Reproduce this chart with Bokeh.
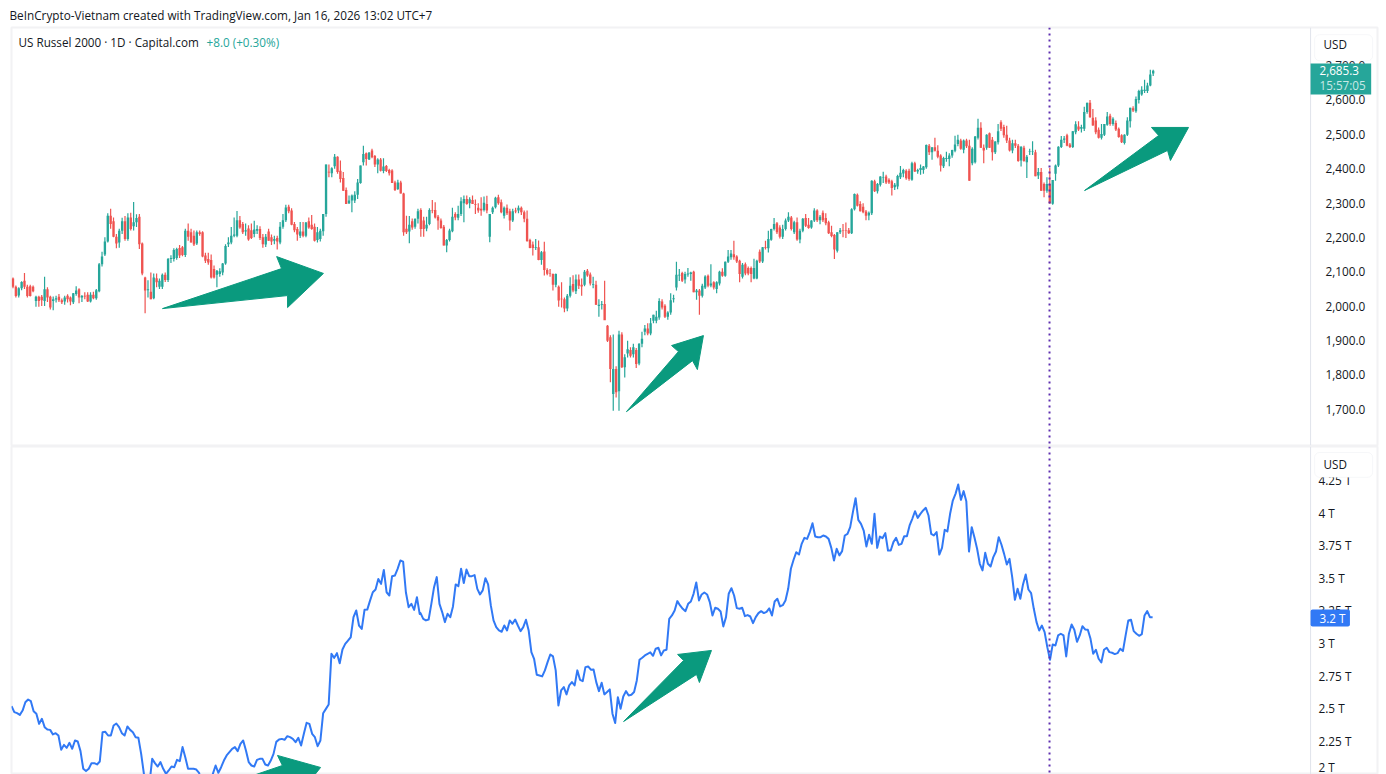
from bokeh.plotting import figure
from bokeh.layouts import column
from bokeh.models import Range1d, Span, BoxAnnotation, Label, FixedTicker, NumeralTickFormatter
from bokeh.embed import file_html
from bokeh.resources import INLINE
import numpy as np

opens_a = [2080,2056,2031,2052,2074,2056,2058,2056,2015,2027,
2027,2015,2049,2027,2015,2019,2027,2017,2013,2030,
2025,2011,2035,2049,2025,2030,2033,2013,2033,2023,
2043,2122,2150,2188,2263,2247,2202,2185,2219,2247,
2195,2258,2232,2244,2260,2182,2083,2046,2042,2023,
2081,2056,2056,2091,2076,2137,2137,2140,2169,2171,
2149,2219,2215,2205,2182,2215,2215,2147,2137,2134,
2108,2091,2093,2098,2124,2180,2185,2205,2205,2250,
2239,2217,2226,2221,2210,2219,2224,2200,2179,2217,
2200,2190,2198,2185,2231,2250,2289,2278,2239,2224,
2205,2217,2205,2247,2237,2231,2192,2195,2218,2268]
highs_a = [2083,2060,2055,2072,2096,2062,2062,2060,2030,2030,
2032,2085,2055,2030,2028,2030,2035,2022,2030,2034,
2028,2038,2058,2052,2032,2040,2040,2040,2042,2050,
2125,2158,2200,2270,2283,2258,2210,2225,2257,2262,
2270,2272,2303,2267,2268,2185,2085,2075,2098,2095,
2095,2080,2095,2098,2140,2148,2168,2170,2178,2175,
2225,2240,2225,2220,2220,2220,2218,2155,2155,2150,
2118,2105,2110,2125,2180,2200,2230,2258,2277,2262,
2245,2240,2235,2240,2248,2235,2232,2210,2210,2225,
2208,2205,2205,2245,2268,2295,2295,2285,2245,2230,
2245,2245,2245,2258,2265,2240,2230,2225,2268,2412]
lows_a = [2052,2025,2025,2046,2050,2025,2028,2040,1998,1998,
2000,2000,2012,1990,1988,2010,2012,2006,2004,2010,
2002,2006,2030,2008,2012,2020,2012,2010,2020,2018,
2040,2115,2146,2185,2225,2200,2168,2170,2210,2190,
2190,2220,2220,2230,2166,2090,1979,2025,2020,2020,
2055,2050,2050,2070,2070,2125,2130,2135,2140,2145,
2143,2190,2185,2175,2178,2205,2142,2125,2120,2080,
2080,2055,2085,2090,2120,2172,2180,2200,2200,2225,
2210,2205,2190,2195,2200,2210,2192,2170,2172,2190,
2178,2180,2165,2180,2225,2245,2270,2235,2215,2190,
2198,2200,2200,2225,2222,2188,2185,2188,2205,2260]
closes_a = [2056,2029,2052,2070,2056,2029,2029,2043,2027,2015,
2017,2049,2025,1996,2020,2023,2017,2011,2025,2020,
2013,2037,2045,2025,2029,2028,2013,2033,2023,2046,
2122,2144,2188,2263,2239,2202,2182,2219,2247,2195,
2258,2224,2244,2256,2180,2095,2045,2049,2020,2083,
2069,2074,2091,2076,2137,2140,2163,2166,2147,2149,
2219,2202,2185,2179,2215,2210,2144,2132,2127,2083,
2083,2103,2101,2124,2175,2185,2205,2208,2250,2229,
2215,2221,2194,2198,2223,2224,2198,2180,2202,2190,
2188,2195,2188,2231,2250,2287,2276,2237,2221,2208,
2217,2205,2243,2229,2224,2190,2215,2219,2268,2412]

opens_b = [2391,2387,2407,2435,2394,2373,2338,2299,2307,2307,
2324,2358,2419,2445,2427,2453,2437,2412,2427,2393,
2408,2396,2395,2360,2341,2360,2328,2225,2217,2247,
2231,2254,2280,2249,2226,2239,2280,2280,2260,2249,
2231,2176,2192,2218,2268,2257,2268,2299,2312,2299,
2309,2297,2286,2283,2280,2297,2202,2273,2288,2317,
2302,2263,2286,2276,2249,2278,2278,2286,2273,2254,
2192,2179,2169,2171,2134,2159,2105,2095,2093,2062,
2056,2021,2020,1993,2030,2064,2043,2077,2062,2062,
2103,2092,2062,2062,2000,2004,2006,1943,1909,1744,
1817,1752,1917,1822,1862,1872,1860,1872,1833]
highs_b = [2412,2404,2443,2436,2424,2390,2345,2322,2325,2334,
2370,2409,2467,2447,2448,2458,2440,2430,2431,2430,
2411,2400,2398,2365,2368,2365,2330,2263,2262,2255,
2255,2283,2285,2260,2260,2285,2309,2302,2265,2255,
2236,2195,2225,2286,2273,2292,2317,2322,2322,2317,
2322,2310,2299,2317,2319,2321,2265,2290,2318,2324,
2310,2290,2296,2283,2283,2286,2293,2290,2278,2278,
2196,2188,2195,2191,2160,2187,2110,2108,2095,2095,
2060,2069,2025,2035,2084,2090,2092,2092,2080,2105,
2108,2098,2085,2074,2020,2015,2074,1945,1915,1917,
1825,1928,1924,1860,1899,1880,1890,1878,1892]
lows_b = [2375,2375,2400,2385,2360,2335,2297,2297,2273,2300,
2312,2356,2409,2409,2425,2430,2405,2387,2392,2387,
2390,2380,2385,2335,2338,2328,2205,2210,2183,2222,
2225,2240,2202,2202,2218,2235,2270,2255,2222,2225,
2176,2157,2188,2215,2250,2250,2262,2244,2295,2285,
2297,2268,2272,2263,2275,2270,2186,2268,2284,2295,
2270,2255,2265,2220,2245,2270,2270,2265,2244,2188,
2168,2147,2163,2133,2120,2089,2090,2085,2045,2055,
1998,1996,1982,1985,2025,2040,2035,2050,2030,2058,
2085,2060,2052,2003,1969,1990,1960,1895,1778,1695,
1734,1695,1820,1792,1850,1850,1850,1820,1828]
closes_b = [2389,2401,2435,2390,2370,2336,2297,2307,2322,2324,
2360,2409,2443,2428,2447,2433,2412,2427,2394,2406,
2393,2387,2358,2338,2360,2328,2215,2215,2237,2229,
2254,2276,2224,2224,2237,2280,2278,2258,2249,2227,
2176,2192,2220,2260,2258,2268,2305,2312,2297,2311,
2297,2295,2278,2278,2301,2278,2268,2286,2315,2299,
2273,2286,2270,2249,2276,2275,2286,2273,2254,2189,
2169,2169,2171,2134,2157,2105,2094,2093,2062,2093,
2016,2020,1993,2030,2059,2045,2077,2059,2057,2100,
2089,2066,2064,2004,2004,2006,1959,1899,1817,1817,
1749,1917,1822,1851,1874,1855,1880,1831,1890]

opens_c = [1890,1925,1935,1920,1957,1957,1967,2013,
2001,1969,1981,2020,2054,2089,2096,2077,2092,2093,2100,
2040,2045,2030,2054,2088,2060,2069,2050,2066,2100,
2088,2129,2142,2151,2144,2132,2085,2122,2111,2111,
2080,2080,2158,2130,2171,2168,2193,2224,2241,2229,
2202,2224,2249,2258,2215,2244,2194,2219,2256,2237,2229,
2249,2278,2250,2272,2256,2244,2215,2207,2161,2215,
2221,2221,2221,2212,2282,2324,2297,2289,2275,2264,
2270,2363,2334,2353,2374,2377,2368,2363,2346,2348,
2375,2386,2394,2394,2368,2416,2392,2396,2396,2404,
2467,2448,2462,2452,2438,2407,2428,2428,2438,2452,2472]
highs_c = [1925,1945,1950,1965,1975,1986,2023,2020,
2005,1985,2037,2033,2129,2108,2100,2100,2111,2100,2103,
2050,2050,2065,2090,2092,2122,2072,2072,2103,2110,
2130,2163,2163,2190,2148,2135,2125,2127,2115,2115,
2138,2135,2165,2172,2190,2219,2225,2256,2245,2235,
2237,2255,2273,2262,2248,2258,2225,2256,2268,2256,2250,
2285,2282,2265,2278,2270,2248,2234,2210,2215,2227,
2239,2243,2227,2285,2328,2328,2305,2299,2280,2275,
2366,2368,2358,2378,2391,2382,2372,2368,2358,2382,
2408,2400,2398,2400,2420,2420,2400,2412,2408,2470,
2472,2462,2490,2468,2442,2435,2449,2445,2455,2496,2499]
lows_c = [1880,1915,1915,1915,1950,1950,1960,1990,
1965,1960,1975,2010,2045,2073,2070,2066,2085,2074,2040,
2018,1975,2025,2050,2055,2055,2048,2037,2060,2085,
2085,2125,2135,2135,2125,2069,2080,2090,2090,2069,
2078,2078,2125,2125,2165,2156,2190,2220,2210,2197,
2195,2220,2245,2220,2210,2190,2183,2215,2230,2225,2225,
2245,2245,2238,2245,2235,2210,2200,2137,2156,2210,
2200,2198,2210,2210,2278,2290,2275,2270,2250,2250,
2265,2332,2328,2348,2358,2355,2355,2322,2338,2340,
2370,2375,2368,2365,2365,2390,2385,2382,2385,2400,
2440,2426,2450,2430,2392,2402,2420,2407,2432,2448,2465]
closes_c = [1905,1935,1920,1950,1975,1969,2015,1996,
1969,1981,2017,2023,2091,2091,2074,2093,2095,2098,2040,
2045,2030,2059,2086,2059,2066,2054,2069,2100,2088,
2129,2144,2153,2142,2130,2093,2120,2095,2095,2093,
2111,2132,2130,2171,2169,2195,2224,2239,2215,2202,
2224,2249,2260,2224,2244,2194,2219,2254,2234,2227,2249,
2278,2250,2260,2250,2241,2212,2204,2165,2215,2221,
2219,2219,2212,2282,2326,2292,2276,2273,2263,2272,
2365,2334,2355,2377,2376,2360,2360,2344,2353,2379,
2388,2396,2372,2370,2416,2392,2396,2402,2406,2469,
2448,2462,2452,2435,2409,2431,2431,2438,2454,2470,2484]

opens_d = [2482,2455,2482,2467,2416,2419,2490,2519,2461,2461,2503,
2484,2448,2477,2535,2521,2499,2482,2453,2474,2467,
2424,2461,2419,2449,2449,2448,2380,2390,2355,2336,
2355,2298,2385,2409,2463,2484,2497,2470,2463,2506,
2523,2516,2516,2565,2592,2548,2540,2513,2490,2499,
2528,2554,2530,2533,2516,2497,2475,2499,2538,2576,
2567,2600,2616,2626,2626,2642,2677]
highs_d = [2487,2485,2487,2484,2462,2495,2545,2535,2470,2500,2505,
2492,2480,2530,2541,2528,2525,2490,2484,2484,2472,
2465,2467,2440,2458,2480,2455,2402,2402,2360,2375,
2402,2367,2412,2465,2495,2495,2502,2475,2510,2538,
2538,2528,2580,2592,2600,2574,2550,2520,2530,2530,
2565,2560,2550,2540,2520,2500,2500,2550,2577,2582,
2610,2630,2640,2659,2650,2688,2688]
lows_d = [2455,2445,2460,2365,2410,2415,2485,2460,2416,2455,2460,
2424,2443,2470,2510,2490,2475,2450,2445,2460,2420,
2406,2420,2373,2440,2440,2378,2370,2335,2317,2330,
2298,2295,2365,2405,2460,2475,2465,2460,2460,2500,
2510,2505,2510,2560,2548,2525,2500,2488,2485,2495,
2525,2525,2525,2510,2490,2475,2470,2495,2520,2565,
2563,2590,2612,2620,2620,2640,2670]
closes_d = [2458,2482,2465,2365,2458,2494,2519,2461,2453,2499,2461,
2448,2479,2509,2516,2497,2482,2453,2474,2467,2422,
2464,2422,2435,2451,2451,2378,2390,2336,2336,2355,
2299,2367,2409,2464,2484,2488,2467,2463,2509,2529,
2514,2521,2565,2592,2550,2526,2506,2490,2501,2530,
2552,2530,2545,2514,2492,2477,2499,2540,2577,2569,
2603,2626,2630,2630,2642,2674,2685.3]

# Lower pane, in trillions of USD
cap_a = [2.516,2.470,2.462,2.449,2.482,2.546,2.567,2.554,2.477,2.457,
2.380,2.419,2.355,2.337,2.334,2.299,2.309,2.291,2.181,2.219,
2.196,2.235,2.189,2.253,2.245,2.171,2.036,2.018,2.036,2.079,
2.079,2.069,2.092,2.316,2.319,2.291,2.291,2.368,2.383,2.355,
2.309,2.291,2.360,2.334,2.316,2.278,2.273,2.150,1.997,1.895,
1.921,2.112,2.079,2.053,2.087,2.036,1.997,2.023,2.053,2.048,
2.104,2.094,2.202,2.125,2.036,2.036,2.036,2.030,2.005,1.921,
1.869,1.844,1.895,1.997,2.061,2.005,2.048,2.099,2.138,2.163,
2.189,2.202,2.171,2.227,2.253,2.176,2.087,2.061,2.053,2.104,
2.112,2.112,2.069,2.061,2.099,2.150,2.242,2.260,2.265,2.258,
2.286,2.278,2.265,2.240,2.273,2.214,2.304,2.388,2.380,2.304,
2.278,2.209,2.253,2.462,2.495,2.528,2.917,2.886,2.922,2.845,
2.950,2.993,3.019,3.044,3.198,3.249,3.134,3.108,3.254,3.256,
3.325,3.389,3.410,3.491,3.453,3.560,3.389,3.364,3.512,3.517,
3.568,3.632,3.624,3.389,3.274,3.300,3.254,3.351,3.223]
cap_b = [3.229,3.185,3.173,3.180,3.300,3.428,3.505,3.300,3.237,3.160,
3.224,3.198,3.280,3.449,3.436,3.569,3.459,3.563,3.512,3.512,
3.520,3.415,3.372,3.403,3.497,3.449,3.288,3.173,3.122,3.096,
3.086,3.134,3.096,3.173,3.147,3.180,3.134,3.091,3.122,3.178,
3.096,2.930,2.879,2.756,2.751,2.744,2.790,2.853,2.912,2.897,
2.790,2.521,2.636,2.662,2.606,2.675,2.700,2.675,2.790,2.718,
2.708,2.815,2.820,2.795,2.797,2.700,2.631,2.695,2.606,2.624,
2.644,2.458,2.386,2.585,2.496,2.590,2.631,2.598,2.603,2.624,
2.713,2.871,2.887,2.905,2.917,2.928,2.902,2.956,2.963,2.905,
2.943,2.948,3.185,3.211,3.249,3.321,3.288,3.262,3.244,3.300,
3.318,3.377,3.464,3.326,3.372,3.387,3.372,3.313,3.211,3.270,
3.262,3.242,3.127,3.198,3.377,3.420,3.364,3.267,3.262,3.270,
3.206,3.214,3.203,3.152,3.198,3.229,3.244,3.229,3.239,3.265,
3.211,3.318,3.339,3.280,3.290,3.326,3.415,3.569,3.638,3.696,
3.678,3.760,3.806,3.798,3.850,3.918,3.816,3.811,3.811]
cap_c = [3.824,3.816,3.798,3.729,3.632,3.722,3.671,3.704,3.824,3.837,
3.888,4.003,4.110,3.944,3.913,3.862,3.740,3.829,3.760,3.990,
3.729,3.816,3.804,3.842,3.709,3.709,3.773,3.806,3.752,3.760,
3.819,3.819,3.901,3.952,4.010,3.959,3.990,4.016,4.036,3.977,
3.837,3.824,3.850,3.678,3.729,3.867,3.855,3.990,4.092,4.143,
4.215,4.097,4.164,4.087,3.701,3.888,3.811,3.722,3.607,3.556,
3.691,3.607,3.586,3.658,3.701,3.811,3.755,3.683,3.602,3.645,
3.505,3.331,3.415,3.339,3.449,3.525,3.410,3.382,3.262,3.160,
3.096,3.134,3.083,2.968,2.871,2.989,2.981,3.058,3.071,3.058,
2.897,3.071,3.142,3.101,3.009,3.058,3.129,3.104,3.101,3.032,
2.917,2.948,2.879,2.851,2.948,2.963,2.930,2.925,2.915,2.922,
2.956,2.938,3.058,3.173,3.178,3.091,3.071,3.055,3.068,3.211,
3.244,3.198,3.198]

price_ticks = [1700,1800,1900,2000,2100,2200,2300,2400,2500,2600,2700]
cap_ticks = [2,2.25,2.5,2.75,3,3.25,3.5,3.75,4,4.25]
cap_labels = ["2 T","2.25 T","2.5 T","2.75 T","3 T","3.25 T","3.5 T","3.75 T","4 T","4.25 T"]

title_text = "BeInCrypto-Vietnam created with TradingView.com, Jan 16, 2026 13:02 UTC+7"
legend_text = "US Russel 2000 \u00b7 1D \u00b7 Capital.com"
change_text = "+8.0 (+0.30%)"
marker_bar = 360.9

arrow1_bar = [52.05,93.5,91.8,108.1,95.6,95.6]
arrow1_price = [1992.6,2109,2144,2095,1995.6,2030.5]
arrow2_bar = [213.6,231.7,229.3,240.4,238.3,236.6]
arrow2_price = [1692.6,1867.4,1885,1914,1815,1841]
arrow3_bar = [373.1,398.9,396.4,409.3,403.0,402.0]
arrow3_price = [2336.4,2496.6,2520,2520,2423.8,2453]
arrow4_bar = [212.6,233.5,231.4,243.2,239.0,238.0]
arrow4_cap = [2.398,2.866,2.912,2.943,2.697,2.759]
arrow5_bar = [53.1,93.8,92.1,107.1,96.6,95.6]
arrow5_cap = [1.755,2.061,2.138,2.046,1.755,1.847]

UP, DOWN = "#26a69a", "#ef5350"
ARROW, BLUE, PURPLE = "#0a9a7e", "#3179f5", "#5e2fb0"
FONT = "Open Sans"
TXT = "#131722"
EDGE, AXLINE = "#f2f2f4", "#e0e3eb"
XMIN, XMAX, XOUT = -0.52, 451.8, 475.1
BAR_PX = 2.872
LABEL_BAR = 454.9

o = np.array(opens_a + opens_b + opens_c + opens_d, float)
h = np.array(highs_a + highs_b + highs_c + highs_d, float)
l = np.array(lows_a + lows_b + lows_c + lows_d, float)
c = np.array(closes_a + closes_b + closes_c + closes_d, float)
bars = np.arange(len(o))
colors = [UP if ci >= oi else DOWN for oi, ci in zip(o, c)]


def base(height, ymin, ymax, top, bottom, ticks, pull, nudge=0):
    p = figure(width=1386, height=height, output_backend="svg", toolbar_location=None,
               x_range=Range1d(XMIN, XOUT), y_range=Range1d(ymin, ymax),
               y_axis_location="right", min_border_left=11, min_border_right=9,
               min_border_top=top, min_border_bottom=bottom)
    p.xaxis.visible = False
    p.grid.visible = False
    p.outline_line_color = EDGE
    p.outline_line_width = 2
    ax = p.yaxis[0]
    ax.ticker = FixedTicker(ticks=ticks)
    ax.major_tick_line_color = None
    ax.minor_tick_line_color = None
    ax.axis_line_color = None
    # The scale sits inside the frame so that the tags can lie over its labels.
    ax.fixed_location = LABEL_BAR + (pull - nudge) / BAR_PX
    ax.major_label_standoff = -pull
    ax.major_label_text_font = FONT
    ax.major_label_text_font_size = "11.8px"
    ax.major_label_text_color = TXT
    p.add_layout(Span(location=XMAX, dimension="height", line_color=AXLINE, line_width=1))
    p.add_layout(Span(location=marker_bar, dimension="height", line_color=PURPLE,
                      line_width=2, line_dash="2 4"))
    return p


def label(p, x, y, text, color=TXT, size="11.7px", weight="normal"):
    p.add_layout(Label(x=x, y=y, text=text, text_color=color, text_font=FONT, text_font_size=size,
                       text_font_style=weight, text_baseline="middle", level="overlay"))


top = base(446, 1594, 2811, 27, 1, price_ticks, 38)
top.title.text = title_text
top.title.text_font = FONT
top.title.text_font_size = "11.75px"
top.title.text_font_style = "normal"
top.title.text_color = TXT
top.title.standoff = 9
top.title.offset = -2
top.yaxis[0].formatter = NumeralTickFormatter(format="0,0.0")

top.patch(arrow1_bar, arrow1_price, color=ARROW)
top.patch(arrow2_bar, arrow2_price, color=ARROW)
top.patch(arrow3_bar, arrow3_price, color=ARROW)
top.segment(bars, l, bars, h, color=colors, line_width=1.2)
top.vbar(bars, top=np.maximum(o, c), bottom=np.minimum(o, c), width=0.82,
         fill_color=colors, line_color=None)

label(top, 1.9, 2767.5, legend_text)
label(top, 67.4, 2767.5, change_text, color=UP)
top.add_layout(BoxAnnotation(left=453.2, right=473.4, top=2790, bottom=2714, fill_color="white",
                             fill_alpha=1, line_color=AXLINE, line_width=1, border_radius=5,
                             level="overlay"))
label(top, 456.3, 2761.7, "USD")
top.add_layout(BoxAnnotation(left=451.8, right=472.9, top=2706, bottom=2616, fill_color=UP,
                             fill_alpha=1, line_color=None, level="overlay"))
label(top, LABEL_BAR, float(c[-1]), "2,685.3", color="white")
label(top, LABEL_BAR, 2643.7, "15:57:05", color="#c9e9e6")

bot = base(328, 1.992, 4.506, 0, 0, cap_ticks, 33, 7)
bot.yaxis[0].major_label_overrides = dict(zip(cap_ticks, cap_labels))

x_a = np.linspace(-0.5, 141.6, len(cap_a))
x_b = np.linspace(141.9, 281.2, len(cap_b))
x_c = np.linspace(282.1, 396.8, len(cap_c))
bot.patch(arrow4_bar, arrow4_cap, color=ARROW)
bot.patch(arrow5_bar, arrow5_cap, color=ARROW)
bot.line(np.concatenate([x_a, x_b, x_c]), cap_a + cap_b + cap_c, line_color=BLUE, line_width=2,
         line_join="round")

bot.add_layout(BoxAnnotation(left=453.2, right=473.4, top=4.46, bottom=4.27, fill_color="white",
                             fill_alpha=1, line_color=AXLINE, line_width=1, border_radius=5,
                             level="overlay"))
label(bot, 456.3, 4.375, "USD")
bot.add_layout(BoxAnnotation(left=451.8, right=465.5, top=3.257, bottom=3.126, fill_color=BLUE,
                             fill_alpha=1, line_color=None, border_radius=2, level="overlay"))
label(bot, LABEL_BAR, 3.19, "3.2 T", color="white")

layout = column(top, bot)
open("out.html", "w").write(file_html(layout, INLINE))
